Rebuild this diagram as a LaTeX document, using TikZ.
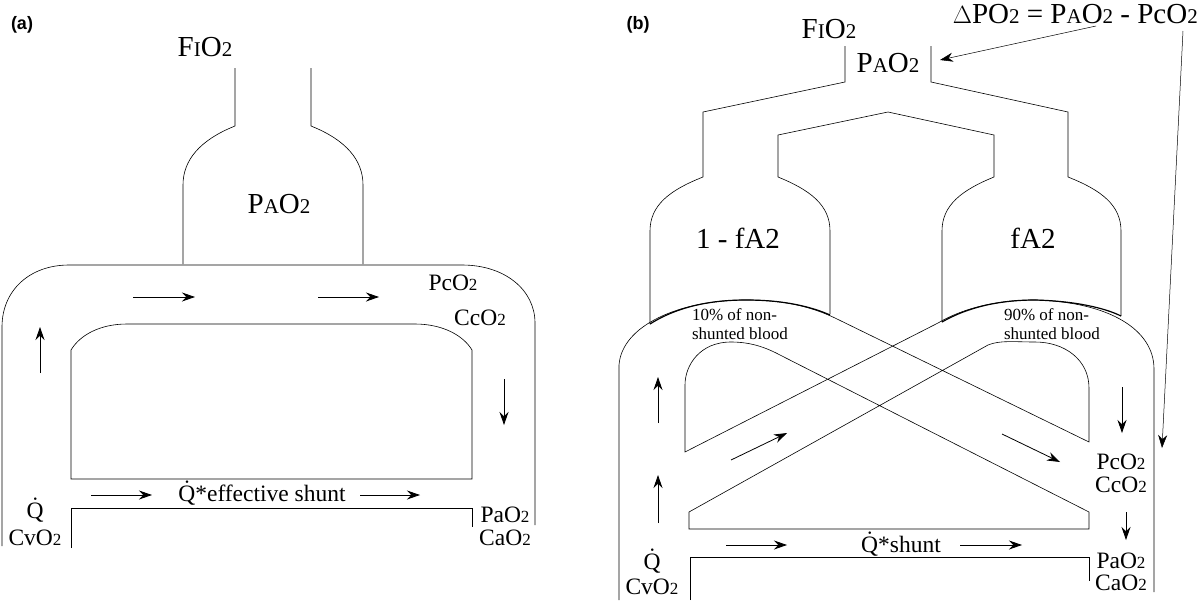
\documentclass[tikz,border=0pt]{standalone}
\usepackage{fontspec}
\setmainfont{Liberation Serif}
\newfontfamily\lsans{Liberation Sans}
\usetikzlibrary{arrows.meta}
\newcommand\sm[1]{{\fontsize{21}{21}\selectfont #1}}
\newcommand\smm[1]{{\fontsize{17}{17}\selectfont #1}}
\begin{document}
\begin{tikzpicture}[x=1pt,y=-1pt,
  ln/.style={line width=0.6pt},
  ar/.style={line width=0.8pt,-{Stealth[length=13pt,width=9pt]}},
  thin/.style={line width=0.5pt,-{Stealth[length=13pt,width=9pt]}},
  big/.style={font=\fontsize{29}{29}\selectfont, inner sep=0pt},
  mid/.style={font=\fontsize{23.5}{23.5}\selectfont, inner sep=0pt},
  small/.style={font=\fontsize{17}{19}\selectfont, inner sep=0pt, align=left},
  lab/.style={font=\lsans\bfseries\fontsize{18}{18}\selectfont, inner sep=0pt}]
\useasboundingbox (0,0) rectangle (1200,603);
% ---------------- panel (a)
\node[lab] (la) at (22,25) {(a)};
\draw[ln] (235,68) -- (235,126) .. controls (200,140) and (183,160) .. (183,185) -- (183,264);
\draw[ln] (311,68) -- (311,126) .. controls (346,140) and (363,160) .. (363,185) -- (363,264);
\draw[ln] (2,546) -- (2,327) .. controls (2,290) and (30,265) .. (69,265) -- (462,265)
   .. controls (505,265) and (535,290) .. (535,323) -- (535,525);
\draw[ln] (71,479) -- (71,350) .. controls (80,335) and (100,324) .. (127,324) -- (415,324)
   .. controls (442,324) and (463,335) .. (472,350) -- (472,479) -- cycle;
\draw[ln] (71,548) -- (71,508) -- (472,508) -- (472,527);
\coordinate (a1s) at (133,297); \coordinate (a1e) at (195,297);
\coordinate (a2s) at (318,297); \coordinate (a2e) at (379,297);
\coordinate (a3s) at (40,373); \coordinate (a3e) at (40,327);
\coordinate (a4s) at (504,379); \coordinate (a4e) at (504,425);
\coordinate (a5s) at (91,495); \coordinate (a5e) at (152,495);
\coordinate (a6s) at (360,495); \coordinate (a6e) at (420,495);
\foreach \i in {1,...,6} \draw[ar] (a\i s) -- (a\i e);
\node[big] (fa) at (205,47) {F\sm{I}O\sm{2}};
\node[big] (pa) at (279,204) {P\sm{A}O\sm{2}};
\node[mid] (pca) at (453,283) {PcO\smm{2}};
\node[mid] (cca) at (480,318) {CcO\smm{2}};
\node[mid] (sha) at (262,493) {\.Q*effective shunt};
\node[mid] (qa) at (35,510) {\.Q};
\node[mid] (cva) at (35,538) {CvO\smm{2}};
\node[mid] (paa) at (505,515) {PaO\smm{2}};
\node[mid] (caa) at (505,538) {CaO\smm{2}};
% ---------------- panel (b)
\node[lab] (lb) at (638,25) {(b)};
\draw[ln] (845,46) -- (845,82) -- (703,112) -- (703,177) .. controls (670,190) and (650,205) .. (650,231) -- (650,324);
\draw[ln] (931,46) -- (931,82) -- (1068,112) -- (1068,177) .. controls (1101,190) and (1121,205) .. (1121,231) -- (1121,316);
\draw[ln] (830,314) -- (830,231) .. controls (830,205) and (810,190) .. (778,177) -- (778,135) -- (888,112) -- (994,135) -- (994,177)
   .. controls (962,190) and (942,205) .. (942,231) -- (942,322);
% blood paths
\draw[ln] (619,600) -- (619,365) .. controls (622,325) and (680,300) .. (746,300)
   .. controls (785,300) and (812,307) .. (835,318) -- (1089,442) -- (1089,388)
   .. controls (1089,360) and (1065,342) .. (1035,342) .. controls (1015,342) and (1000,340) .. (988,345)
   -- (689,512) -- (689,529) -- (1089,529) -- (1089,512) -- (780,355)
   .. controls (765,347) and (750,342) .. (731,342) .. controls (700,342) and (685,365) .. (685,385) -- (685,452)
   -- (938,323) .. controls (965,307) and (1000,300) .. (1035,300) .. controls (1110,302) and (1154,330) .. (1154,369) -- (1154,592);
\draw[line width=1.2pt] (650,324) .. controls (680,305) and (715,300) .. (746,300) .. controls (785,300) and (812,307) .. (830,315);
\draw[line width=1.2pt] (942,322) .. controls (968,307) and (1000,300) .. (1035,300) .. controls (1075,301) and (1105,308) .. (1121,316);
\draw[ln] (690,600) -- (690,557) -- (1089,557) -- (1089,581);
\coordinate (b1s) at (658,423); \coordinate (b1e) at (658,377);
\coordinate (b2s) at (658,523); \coordinate (b2e) at (658,475);
\coordinate (b3s) at (731,460); \coordinate (b3e) at (787,433);
\coordinate (b4s) at (1002,434); \coordinate (b4e) at (1060,462);
\coordinate (b5s) at (1122,387); \coordinate (b5e) at (1122,433);
\coordinate (b6s) at (1126,512); \coordinate (b6e) at (1126,540);
\coordinate (b7s) at (726,545); \coordinate (b7e) at (787,545);
\coordinate (b8s) at (960,545); \coordinate (b8e) at (1022,545);
\foreach \i in {1,...,8} \draw[ar] (b\i s) -- (b\i e);
\node[big] (fb) at (829,29) {F\sm{I}O\sm{2}};
\node[big] (pb) at (888,63) {P\sm{A}O\sm{2}};
\node[big,anchor=east] (dp) at (1198,14) {$\Delta$PO\sm{2} = P\sm{A}O\sm{2} - PcO\sm{2}};
\draw[thin] (1096,26) -- (940,60);
\draw[thin] (1183,31) -- (1162,448);
\node[big] (f1) at (738,238) {1 - fA2};
\node[big] (f2) at (1033,238) {fA2};
\node[small] (t1) at (740,324) {10\% of non-\\shunted blood};
\node[small] (t2) at (1052,324) {90\% of non-\\shunted blood};
\node[mid] (pcb) at (1121,462) {PcO\smm{2}};
\node[mid] (ccb) at (1121,485) {CcO\smm{2}};
\node[mid] (shb) at (901,544) {\.Q*shunt};
\node[mid] (pab) at (1121,561) {PaO\smm{2}};
\node[mid] (cab) at (1121,583) {CaO\smm{2}};
\node[mid] (qb) at (652,561) {\.Q};
\node[mid] (cvb) at (652,587) {CvO\smm{2}};
\end{tikzpicture}
\end{document}
